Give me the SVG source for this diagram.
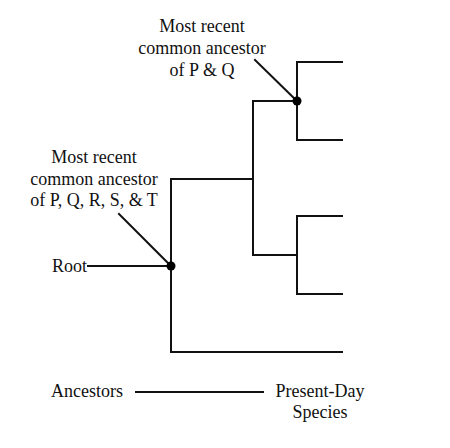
<svg xmlns="http://www.w3.org/2000/svg" width="450" height="448" viewBox="0 0 450 448">
<style>
.t{font-family:"Liberation Serif","Times New Roman",serif;font-size:18px;fill:#111}
.e{fill:none;stroke:#111;stroke-width:2;stroke-linecap:square}
.d{fill:#000}
</style>
<rect width="450" height="448" fill="#fff"/>
<g id="connectors">
<path class="e" d="M88,266H171"/>
<path class="e" d="M171,179V352H342"/>
<path class="e" d="M171,179H253"/>
<path class="e" d="M297,101H253V255H297"/>
<path class="e" d="M342,62H297V140H342"/>
<path class="e" d="M342,216H297V294H342"/>
<path class="e" d="M119,214L171,266"/>
<path class="e" d="M255,60L297,101"/>
<path class="e" d="M136,392H263"/>
</g>
<g id="node-root-label"><text class="t" x="52" y="272">Root</text></g>
<g id="node-mrca-all">
<circle class="d" cx="171" cy="266" r="4.5"/>
<text class="t" text-anchor="middle"><tspan x="94" y="163">Most recent</tspan><tspan x="94" y="185">common ancestor</tspan><tspan x="94" y="206">of P, Q, R, S, &amp; T</tspan></text>
</g>
<g id="node-mrca-pq">
<circle class="d" cx="297" cy="101" r="4.5"/>
<text class="t" text-anchor="middle"><tspan x="202" y="32">Most recent</tspan><tspan x="202" y="54">common ancestor</tspan><tspan x="202" y="76">of P &amp; Q</tspan></text>
</g>
<g id="axis">
<text class="t" x="51" y="397">Ancestors</text>
<text class="t" text-anchor="middle"><tspan x="320" y="397">Present-Day</tspan><tspan x="320" y="418">Species</tspan></text>
</g>
</svg>
